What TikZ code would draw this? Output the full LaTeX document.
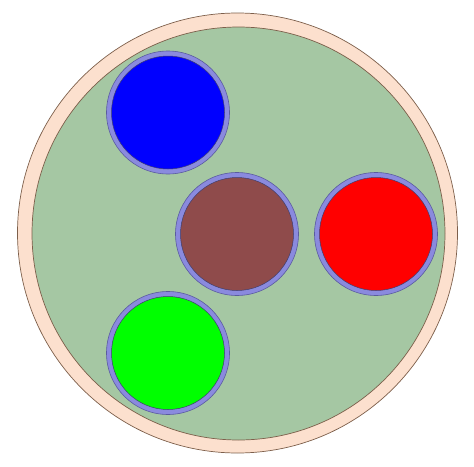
\documentclass[tikz,border=0pt]{standalone}
\begin{document}
\begin{tikzpicture}[x=1pt,y=-1pt,
  ringline/.style={draw=edgebrown, line width=0.7pt},
  outerdisk/.style={circle, inner sep=0pt, fill=peach, ringline, minimum size=440pt},
  innerdisk/.style={circle, inner sep=0pt, fill=sage, ringline, minimum size=413pt},
  halo/.style={circle, inner sep=0pt, fill=lav, draw=lavedge, line width=0.6pt, minimum size=123pt},
  core/.style={circle, inner sep=0pt, draw=lavedge!70!black, line width=0.5pt, minimum size=113pt}]
\definecolor{peach}{RGB}{252,224,206}
\definecolor{sage}{RGB}{165,199,163}
\definecolor{lav}{RGB}{138,138,222}
\definecolor{lavedge}{RGB}{90,90,160}
\definecolor{brownc}{RGB}{143,75,75}
\definecolor{edgebrown}{RGB}{125,95,75}
\useasboundingbox (0,0) rectangle (474,466);
\node[outerdisk] (outer) at (237.5,233) {};
\node[innerdisk] (inner) at (238.5,233.5) {};
\node[halo] (hblue) at (168,112.5) {};
\node[core, fill=blue] (blue) at (168,112.5) {};
\node[halo] (hbrown) at (237,234) {};
\node[core, fill=brownc] (brown) at (237,234) {};
\node[halo] (hred) at (376,234) {};
\node[core, fill=red] (red) at (376,234) {};
\node[halo] (hgreen) at (168,353) {};
\node[core, fill=green] (green) at (168,353) {};
\end{tikzpicture}
\end{document}
